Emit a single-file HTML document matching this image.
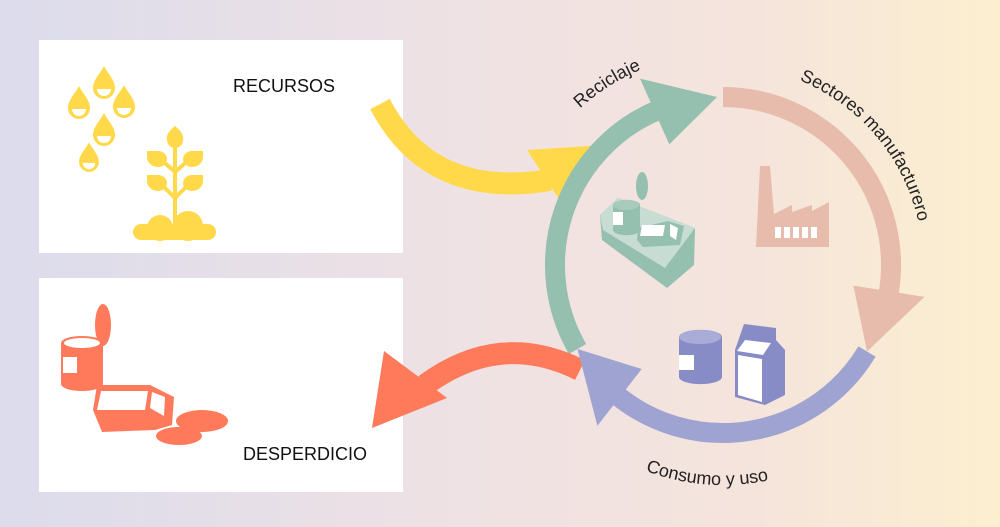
<!DOCTYPE html>
<html><head><meta charset="utf-8"><style>
html,body{margin:0;padding:0;}
body{width:1000px;height:527px;overflow:hidden;}
svg{display:block;font-family:"Liberation Sans",sans-serif;}
</style></head><body>
<svg width="1000" height="527" viewBox="0 0 1000 527" xmlns="http://www.w3.org/2000/svg">
<defs>
<linearGradient id="bg" x1="0" y1="0" x2="1" y2="0">
<stop offset="0" stop-color="#dcdcec"/>
<stop offset="0.5" stop-color="#f0e2e3"/>
<stop offset="0.75" stop-color="#f5e4dc"/>
<stop offset="1" stop-color="#fcefcf"/>
</linearGradient>
<path id="drop" d="M0,-22 C4,-14 11,-8 11,0 A11,11 0 0 1 -11,0 C-11,-8 -4,-14 0,-22 Z"/>
<g id="leaf"><path d="M147,151 H158 A9,8 0 0 1 158,167 A11,10 0 0 1 147,157Z"/></g>
<path id="pSect" d="M774.8,71.8 A200,200 0 0 1 920,299.7"/>
<path id="pReci" d="M560.6,128.7 A212,212 0 0 1 723,53"/>
<path id="pCons" d="M613,455.5 A220,220 0 0 0 849.2,445.2"/>
</defs>
<rect width="1000" height="527" fill="url(#bg)"/>
<rect x="39" y="40" width="364" height="213" fill="#fff"/>
<rect x="39" y="278" width="364" height="214" fill="#fff"/>

<!-- drops -->
<g fill="#ffd94a">
<g transform="translate(104,88)"><use href="#drop"/><path d="M-7,1 H7 A7,7 0 0 1 -7,1Z" fill="#fff"/></g>
<g transform="translate(79,108)"><use href="#drop"/><path d="M-7,1 H7 A7,7 0 0 1 -7,1Z" fill="#fff"/></g>
<g transform="translate(124,107)"><use href="#drop"/><path d="M-7,1 H7 A7,7 0 0 1 -7,1Z" fill="#fff"/></g>
<g transform="translate(104,135)"><use href="#drop"/><path d="M-7,1 H7 A7,7 0 0 1 -7,1Z" fill="#fff"/></g>
<g transform="translate(89,162) scale(0.9)"><use href="#drop"/><path d="M-7,1 H7 A7,7 0 0 1 -7,1Z" fill="#fff"/></g>
</g>
<!-- plant -->
<g fill="#ffd94a">
<rect x="173" y="135" width="4" height="95"/>
<path d="M175,126 C181,131 184,135 183,140 A8,8 0 0 1 167,140 C166,135 169,131 175,126Z"/>
<path d="M175,172 L159,158 M175,172 L191,158 M175,198 L159,182 M175,198 L191,182" stroke="#ffd94a" stroke-width="4"/>
<use href="#leaf"/>
<use href="#leaf" transform="translate(0,24)"/>
<use href="#leaf" transform="translate(350,0) scale(-1,1)"/>
<use href="#leaf" transform="translate(350,24) scale(-1,1)"/>
<circle cx="160" cy="228" r="13"/>
<circle cx="188" cy="226" r="15"/>
<rect x="133" y="224" width="83" height="16" rx="8"/>
</g>
<text x="233" y="92" font-size="18" fill="#111">RECURSOS</text>

<!-- waste icons -->
<g fill="#ff7a5a">
<ellipse cx="103" cy="325" rx="8" ry="21"/>
<path d="M61,343 A21,7 0 0 1 103,343 V384 A21,7 0 0 1 61,384Z"/>
<ellipse cx="82" cy="343" rx="18" ry="5" fill="#fff"/>
<rect x="63" y="357" width="14" height="16" fill="#fff"/>
<path d="M97,385 H150 L174,397 L172,425 L155,430 L102,432 L93,410Z"/>
<path d="M101,391 H148 L145,410 H97Z" fill="#fff"/>
<path d="M152,392 L165,397 L164,416 L150,408Z" fill="#fff"/>
<ellipse cx="202" cy="421" rx="26" ry="11"/>
<ellipse cx="179" cy="436" rx="23" ry="9"/>
</g>
<text x="243" y="460" font-size="18" fill="#111">DESPERDICIO</text>

<!-- yellow arrow -->
<path d="M380,104 Q430,200 550,180" fill="none" stroke="#ffd94a" stroke-width="22"/>
<polygon points="527,150 605,145 568,213" fill="#ffd94a"/>

<!-- cycle arcs -->
<path d="M577.5,349 A168,168 0 0 1 660.1,109.2" fill="none" stroke="#95bfae" stroke-width="20"/>
<polygon points="669.3,144.4 640,78.6 717,97" fill="#95bfae"/>
<path d="M723,97 A168,168 0 0 1 887.9,297.1" fill="none" stroke="#e8bcac" stroke-width="20"/>
<polygon points="853.4,285.6 924.5,296.9 867,351.5" fill="#e8bcac"/>

<!-- orange arrow -->
<path d="M580,370 Q500,330 425,385" fill="none" stroke="#ff7a5a" stroke-width="22"/>
<polygon points="384,351 372,428 447,398" fill="#ff7a5a"/>

<path d="M867,351.5 A168,168 0 0 1 615,393.7" fill="none" stroke="#9fa3d1" stroke-width="20"/>
<polygon points="641.7,369 597.4,425.8 577.5,349" fill="#9fa3d1"/>

<!-- recycle bin icon -->
<g>
<path d="M600,215 L618,198 L695,228 L694,265 L667,288 L602,240Z" fill="#95bfae"/>
<path d="M600,215 L618,198 L695,228 L665,268 L603,230Z" fill="#c7ddd4"/>
<ellipse cx="642" cy="186" rx="6" ry="14" fill="#95bfae"/>
<path d="M613,205 A13,5 0 0 1 640,205 V230 A13,5 0 0 1 613,230Z" fill="#95bfae"/>
<ellipse cx="626" cy="205" rx="13" ry="5" fill="#a9cbbd"/>
<rect x="613" y="212" width="10" height="13" fill="#fff"/>
<path d="M638,228 L668,221 L684,226 L680,245 L643,247 L637,240Z" fill="#95bfae"/>
<path d="M642,225 H665 L663,236 H640Z" fill="#fff"/>
<path d="M670,224 L678,228 L676,240 L670,236Z" fill="#fff"/>
</g>
<!-- factory -->
<g fill="#e8bcac">
<path d="M760,166 H770 L774,214 L792,205 V212 L812,205 V211 L829,202 V247 H756Z"/>
<g fill="#fff"><rect x="775" y="227" width="6" height="11"/><rect x="784" y="227" width="6" height="11"/><rect x="793" y="227" width="6" height="11"/><rect x="802" y="227" width="6" height="11"/><rect x="811" y="227" width="6" height="11"/></g>
</g>
<!-- purple consumables -->
<g>
<path d="M679,337 A21,7 0 0 1 722,337 V377 A21,7 0 0 1 679,377Z" fill="#878bc6"/>
<ellipse cx="700" cy="337" rx="21" ry="7" fill="#a9acd6"/>
<rect x="679" y="355" width="15" height="15" fill="#fff"/>
<path d="M744,324 L776,328 L776,340 L785,350 L785,395 L765,405 L735,397 L735,350Z" fill="#878bc6"/>
<path d="M737,351 L745,340 L771,343 L763,355Z" fill="#fff"/>
<path d="M738,355 L762,359 L762,402 L738,395Z" fill="#fff"/>
</g>

<!-- labels -->
<g font-size="18" fill="#222">
<text><textPath href="#pSect" startOffset="26">Sectores manufacturero</textPath></text>
<text><textPath href="#pReci" startOffset="28">Reciclaje</textPath></text>
<text><textPath href="#pCons" startOffset="36">Consumo y uso</textPath></text>
</g>
</svg>
</body></html>
